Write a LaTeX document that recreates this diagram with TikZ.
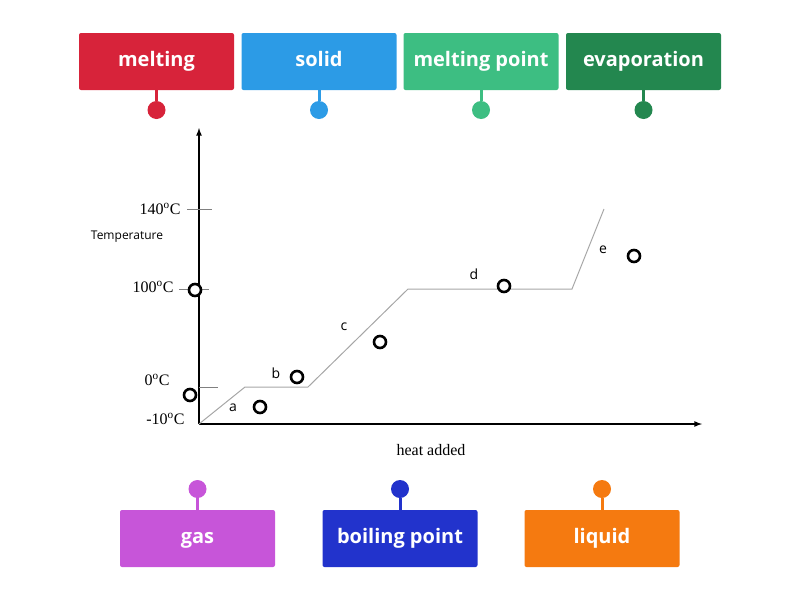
\documentclass[tikz,border=0pt]{standalone}
\usepackage{fontspec}
\setmainfont{Liberation Serif}
\newfontfamily\osans{Open Sans}
\definecolor{cmelt}{HTML}{D7233A}
\definecolor{csolid}{HTML}{2C9BE6}
\definecolor{cmp}{HTML}{3DBE82}
\definecolor{cevap}{HTML}{23874F}
\definecolor{cgas}{HTML}{C755D9}
\definecolor{cbp}{HTML}{2233CC}
\definecolor{cliq}{HTML}{F57A10}
\tikzset{
  lab/.style={rounded corners=2pt, minimum width=155pt, minimum height=57pt, text=white, font=\osans\bfseries\fontsize{20}{24}\selectfont, inner sep=0pt, text height=15pt, text depth=5pt},
  pin/.style={line width=3pt},
  dot/.style={circle, minimum size=18pt, inner sep=0pt},
  hole/.style={circle, draw=black, line width=2.6pt, minimum size=12pt, inner sep=0pt, fill=white},
  tick/.style={font=\fontsize{16}{18}\selectfont, anchor=east},
  curve/.style={gray!70, line width=1pt}
}
\begin{document}
\begin{tikzpicture}[x=1pt,y=-1pt]
\useasboundingbox (0,0) rectangle (800,600);
% top boxes
\foreach \n/\x/\c/\t in {m/156.5/cmelt/melting, s/319/csolid/solid, mp/481/cmp/melting point, ev/643.5/cevap/evaporation}{
  \node[dot, fill=\c] (\n d) at (\x,110) {};
  \draw[pin, \c] (\x,90) -- (\n d);
  \node[lab, fill=\c] (\n) at (\x,61.5) {\t};
}
\foreach \n/\x/\c/\t in {g/197.5/cgas/gas, bp/400/cbp/boiling point, l/602/cliq/liquid}{
  \node[dot, fill=\c] (\n d) at (\x,489) {};
  \draw[pin, \c] (\x,510) -- (\n d);
  \node[lab, fill=\c] (\n) at (\x,538.5) {\t};
}
% axes
\coordinate (O) at (199,424);
\coordinate (Y) at (199,128);
\coordinate (X) at (702,424);
\draw[line width=1.6pt, -latex] (O) -- (Y);
\draw[line width=1.6pt, -latex] (O) -- (X);
\draw[gray, line width=1pt] (187,209) -- (212,209);
\draw[gray, line width=1pt] (179,289) -- (209,289);
\draw[gray, line width=1pt] (199,387) -- (218,387);
\node[tick] (t140) at (184,209) {140\textsuperscript{o}C};
\node[tick] (t100) at (177,287) {100\textsuperscript{o}C};
\node[tick] (t0) at (173,380) {0\textsuperscript{o}C};
\node[tick] (tm10) at (188,419) {-10\textsuperscript{o}C};
\node[font=\osans\fontsize{12}{14}\selectfont] (temp) at (127,237) {Temperature};
\node[font=\fontsize{16}{18}\selectfont] (heat) at (431,450) {heat added};
\draw[curve] (O) -- (245,387) -- (308,387) -- (408,289) -- (572,289) -- (604,209);
\foreach \n/\x/\y in {a/233/408, b/276/373, c/344/327, d/474/274, e/603/250}
  \node[font=\osans\fontsize{14}{16}\selectfont] (\n) at (\x,\y) {\n};
\foreach \n/\x/\y in {h1/195/290, h2/190/395, h3/260/407, h4/297/377, h5/380/342, h6/504/286, h7/634/256}
  \node[hole] (\n) at (\x,\y) {};
\end{tikzpicture}
\end{document}
